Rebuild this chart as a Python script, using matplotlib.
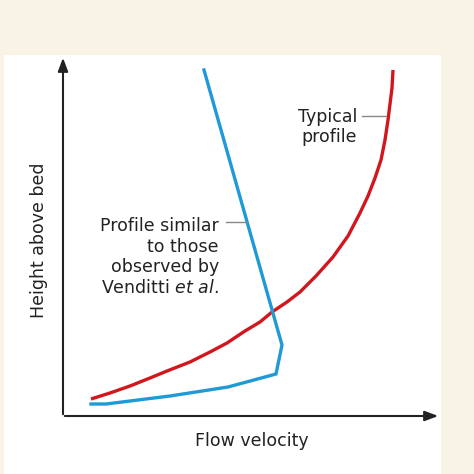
import matplotlib.pyplot as plt
from matplotlib.patches import Rectangle

plt.rcParams['mathtext.fontset'] = 'custom'
plt.rcParams['mathtext.it'] = 'DejaVu Sans:italic'

blue_x = [91, 106, 170, 228, 276, 282, 204]
blue_y = [404, 404, 396, 387, 374, 345, 70]
red_x = [91, 110, 130, 150, 167, 190, 210, 227, 245, 260, 272, 287, 300, 316, 333,
         348, 360, 368, 375, 381, 385, 388, 390, 392, 393]
red_y = [399, 393, 386, 378, 371, 362, 352, 343, 331, 322, 312, 302, 292, 276, 257,
         236, 213, 196, 178, 160, 140, 120, 104, 88, 70]

blue = '#1f9ad6'
red = '#d2161e'

fig = plt.figure(figsize=(4.74, 4.74), dpi=100)
fig.patch.set_facecolor('#f8f3e5')
ax = fig.add_axes([0, 0, 1, 1])
ax.set_xlim(0, 474)
ax.set_ylim(474, 0)
ax.axis('off')

ax.add_patch(Rectangle((4, 55), 437, 419, facecolor='white', edgecolor='none'))

# axes arrows
ax.annotate('', xy=(441, 416), xytext=(62, 416),
            arrowprops=dict(arrowstyle='-|>,head_length=0.8,head_width=0.3', color='#222222', lw=1.5))
ax.annotate('', xy=(63, 55), xytext=(63, 417),
            arrowprops=dict(arrowstyle='-|>,head_length=0.8,head_width=0.3', color='#222222', lw=1.5))

ax.plot(red_x, red_y, color=red, lw=2.4, solid_capstyle='butt', solid_joinstyle='round')
ax.plot(blue_x, blue_y, color=blue, lw=2.4, solid_joinstyle='miter')

fs = 12.5
ax.text(357, 127, 'Typical\nprofile', ha='right', va='center', fontsize=fs,
        color='#222222', linespacing=1.2)
ax.plot([362, 386], [116, 116], color='#888888', lw=1)

ax.text(219, 257, 'Profile similar\nto those\nobserved by\nVenditti $\\it{et\\ al}$.', ha='right',
        va='center', fontsize=fs, color='#222222', linespacing=1.2)
ax.plot([226, 247], [222, 222], color='#888888', lw=1)

ax.text(252, 441, 'Flow velocity', ha='center', va='center', fontsize=fs, color='#222222')
ax.text(39, 240, 'Height above bed', ha='center', va='center', rotation=90,
        fontsize=fs, color='#222222')

fig.savefig('out.png', dpi=100, facecolor=fig.get_facecolor())
